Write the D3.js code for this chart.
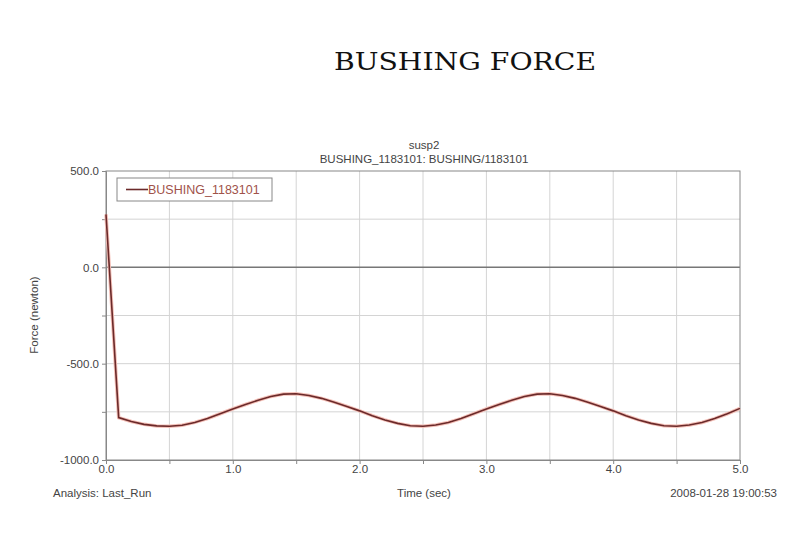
<!DOCTYPE html><html><head><meta charset="utf-8"><script src="https://cdn.jsdelivr.net/npm/d3@7"></script>
<style>body{margin:0;background:#fff}</style></head><body><svg id="c" width="811" height="551"></svg><script>
const times=[0,0.1,0.2,0.3,0.4,0.5,0.6,0.7,0.8,0.9,1.0,1.1,1.2,1.3,1.4,1.5,1.6,1.7,1.8,1.9,2.0,2.1,2.2,2.3,2.4,2.5,2.6,2.7,2.8,2.9,3.0,3.1,3.2,3.3,3.4,3.5,3.6,3.7,3.8,3.9,4.0,4.1,4.2,4.3,4.4,4.5,4.6,4.7,4.8,4.9,5.0];
const force=[275,-780,-800,-815,-823,-825,-820,-805,-785,-760,-735,-712,-690,-670,-658,-656,-665,-680,-700,-722,-745,-770,-792,-810,-822,-825,-818,-805,-785,-760,-735,-712,-690,-670,-658,-656,-665,-680,-700,-722,-745,-770,-792,-810,-822,-825,-818,-805,-785,-760,-732];
const xTicks=[0,1,2,3,4,5];
const yTicks=[500,0,-500,-1000];
const svg=d3.select("#c");
const x=d3.scaleLinear([0,5],[106,740]);
const y=d3.scaleLinear([-1000,500],[460,171]);
const f="Liberation Sans Narrow, Arial Narrow, sans-serif";
const sm=11.5;
svg.append("text").attr("x",465).attr("y",70).attr("text-anchor","middle").attr("font-family","DejaVu Serif").attr("font-size",25).attr("fill","#111").attr("textLength",262).attr("lengthAdjust","spacingAndGlyphs").text("BUSHING FORCE");
svg.append("text").attr("x",424).attr("y",149).attr("text-anchor","middle").attr("font-family",f).attr("font-size",sm).attr("fill","#444").text("susp2");
svg.append("text").attr("x",424).attr("y",163).attr("text-anchor","middle").attr("font-family",f).attr("font-size",sm).attr("fill","#444").text("BUSHING_1183101: BUSHING/1183101");
const g=svg.append("g");
d3.range(0.5,5,0.5).forEach(t=>g.append("line").attr("x1",x(t)).attr("x2",x(t)).attr("y1",y(500)).attr("y2",y(-1000)).attr("stroke","#d4d4d4"));
d3.range(-750,500,250).forEach(v=>g.append("line").attr("y1",y(v)).attr("y2",y(v)).attr("x1",x(0)).attr("x2",x(5)).attr("stroke",v===0?"#777":"#d4d4d4").attr("stroke-width",v===0?1.5:1));
g.append("rect").attr("x",x(0)).attr("y",y(500)).attr("width",x(5)-x(0)).attr("height",y(-1000)-y(500)).attr("fill","none").attr("stroke","#888");
svg.append("g").attr("transform",`translate(0,${y(-1000)})`).call(d3.axisBottom(x).tickValues(d3.range(0,5.01,0.5)).tickSize(4).tickFormat(d=>xTicks.includes(d)?d.toFixed(1):"")).call(a=>{a.select(".domain").attr("stroke","#888");a.selectAll("line").attr("stroke","#888");a.selectAll("text").attr("font-family",f).attr("font-size",sm).attr("fill","#444").attr("dy","0.5em");});
svg.append("g").attr("transform",`translate(${x(0)},0)`).call(d3.axisLeft(y).tickValues(d3.range(-1000,501,250)).tickSize(4).tickFormat(d=>yTicks.includes(d)?d.toFixed(1):"")).call(a=>{a.select(".domain").attr("stroke","#888");a.selectAll("line").attr("stroke","#888");a.selectAll("text").attr("font-family",f).attr("font-size",sm).attr("fill","#444");});
svg.append("text").attr("transform","translate(38,315) rotate(-90)").attr("text-anchor","middle").attr("font-family",f).attr("font-size",sm).attr("fill","#444").text("Force (newton)");
svg.append("text").attr("x",424).attr("y",497).attr("text-anchor","middle").attr("font-family",f).attr("font-size",sm).attr("fill","#444").text("Time (sec)");
svg.append("text").attr("x",53).attr("y",497).attr("font-family",f).attr("font-size",sm).attr("fill","#444").text("Analysis:  Last_Run");
svg.append("text").attr("x",777).attr("y",497).attr("text-anchor","end").attr("font-family",f).attr("font-size",sm).attr("fill","#444").text("2008-01-28 19:00:53");
const line=d3.line().x((d,i)=>x(times[i])).y(d=>y(d)).curve(d3.curveLinear);
svg.append("path").attr("d",line(force)).attr("fill","none").attr("stroke","#f4c0b8").attr("stroke-width",3.5);
svg.append("path").attr("d",line(force)).attr("fill","none").attr("stroke","#6b2a2a").attr("stroke-width",1.6);
svg.append("rect").attr("x",117).attr("y",178).attr("width",155).attr("height",23).attr("fill","#fff").attr("stroke","#888");
svg.append("line").attr("x1",126).attr("x2",148).attr("y1",189.5).attr("y2",189.5).attr("stroke","#6b2a2a").attr("stroke-width",1.6);
svg.append("text").attr("x",148).attr("y",194).attr("font-family",f).attr("font-size",12.5).attr("fill","#a0524a").text("BUSHING_1183101");
</script></body></html>
